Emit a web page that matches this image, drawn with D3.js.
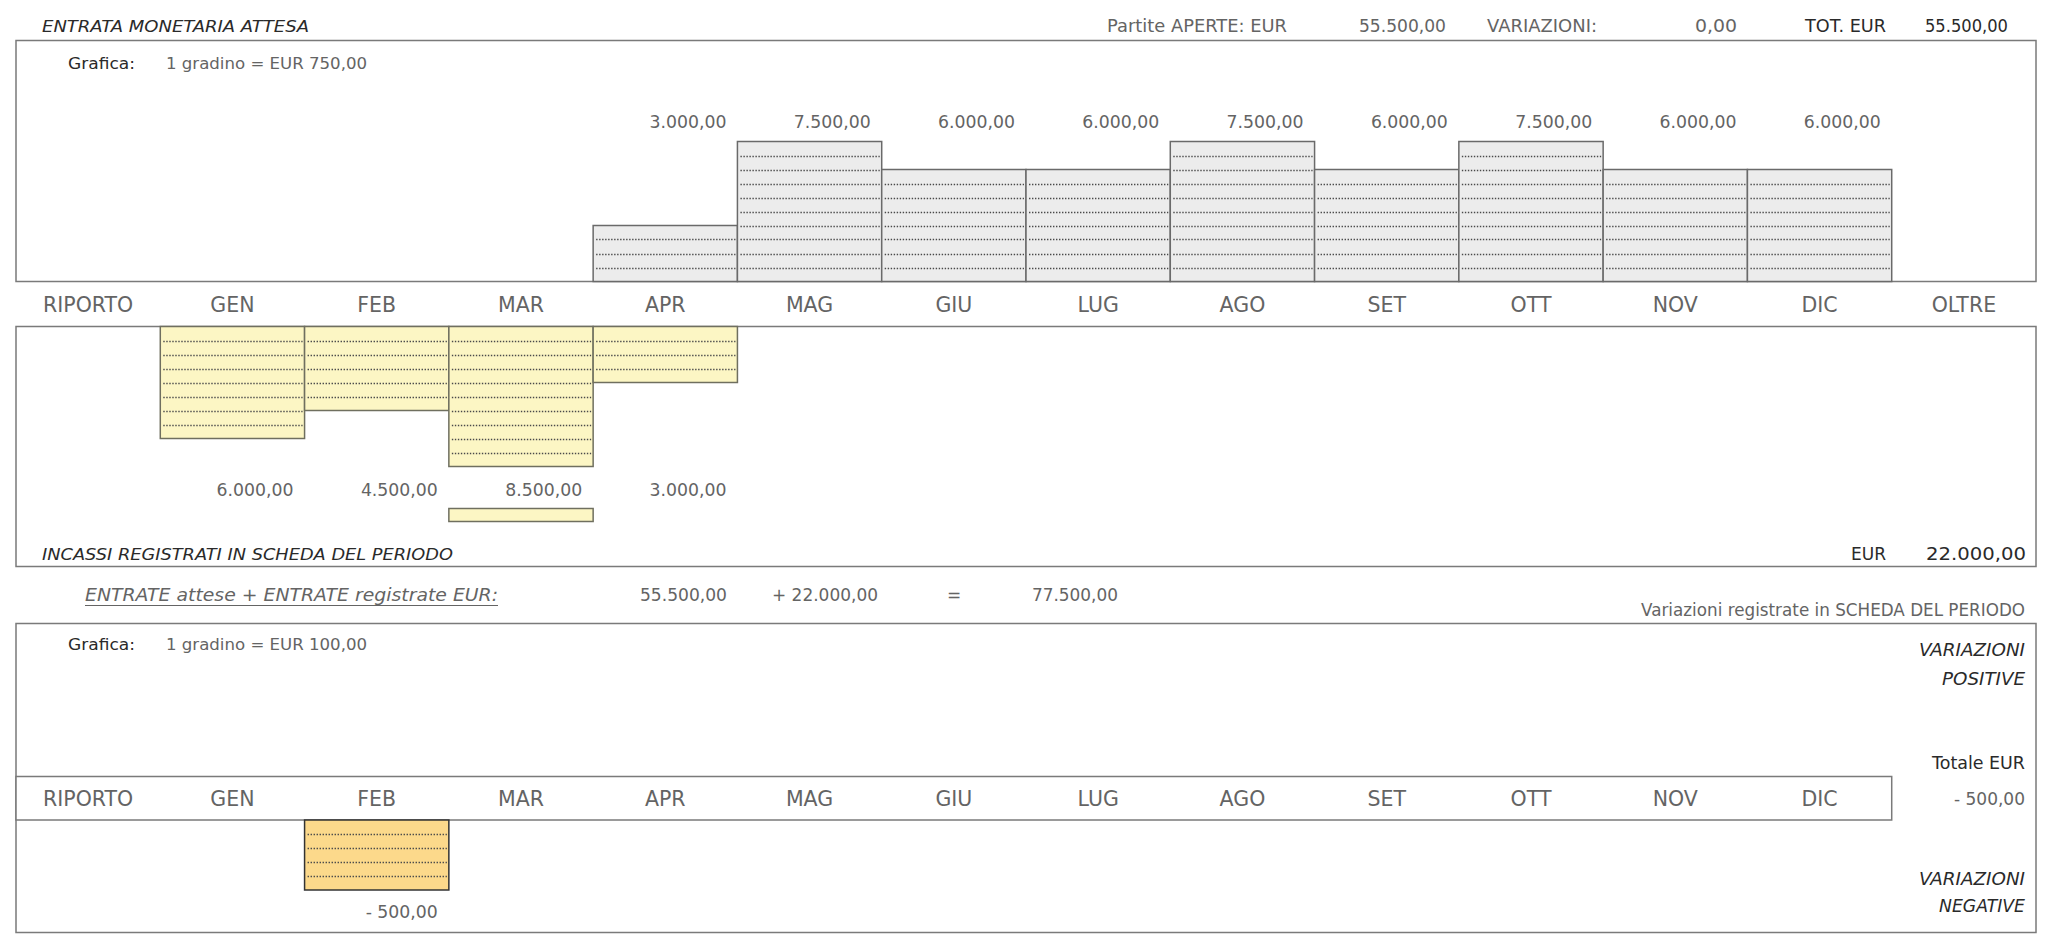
<!DOCTYPE html>
<html><head><meta charset="utf-8">
<script src="https://cdn.jsdelivr.net/npm/d3@7"></script>
<style>
body{margin:0;background:#fff}
svg{display:block}
text{font-family:"DejaVu Sans",Verdana,sans-serif}
</style>
</head><body>
<svg id="c" width="2048" height="941"></svg>
<script>
// ---------- DATA ----------
const columns = ["RIPORTO","GEN","FEB","MAR","APR","MAG","GIU","LUG","AGO","SET","OTT","NOV","DIC","OLTRE"];
const varColumns = ["RIPORTO","GEN","FEB","MAR","APR","MAG","GIU","LUG","AGO","SET","OTT","NOV","DIC"];
const entrateAttese = [0,0,0,0,3000,7500,6000,6000,7500,6000,7500,6000,6000,0];
const incassiRegistrati = [0,6000,4500,8500,3000,0,0,0,0,0,0,0,0,0];
const variazioniPositive = [0,0,0,0,0,0,0,0,0,0,0,0,0];
const variazioniNegative = [0,0,-500,0,0,0,0,0,0,0,0,0,0];
const variazioniAttese = [0];
const gradinoAttese = [750];
const gradinoVariazioni = [100];
const maxGradini = [10];

// ---------- HELPERS ----------
const loc = d3.formatLocale({decimal:",", thousands:".", grouping:[3], currency:["",""]});
const f2 = loc.format(",.2f");
const fmt = v => v < 0 ? "- " + f2(-v) : f2(v);
const sum = a => d3.sum(a);

const svg = d3.select("#c");
const GRAY = "#646464", DARK = "#2a2a2a", LINE = "#7a7a7a";

function txt(x, y, s, o = {}) {
  const t = svg.append("text").attr("x", x).attr("y", y).text(s)
    .attr("font-size", o.size || 17).attr("fill", o.fill || GRAY)
    .attr("text-anchor", o.anchor || "start");
  if (o.italic) t.attr("font-style", "italic");
  if (o.w) t.attr("textLength", o.w).attr("lengthAdjust", "spacingAndGlyphs");
  return t;
}
function box(x0, y0, x1, y1) {
  svg.append("rect").attr("x", x0).attr("y", y0).attr("width", x1 - x0).attr("height", y1 - y0)
    .attr("fill", "none").attr("stroke", LINE).attr("stroke-width", 1.5);
}

// ---------- SCALES ----------
const X0 = 16, X1 = 2036;
const x = d3.scaleBand().domain(columns).range([X0, X1]).padding(0);
const bw = x.bandwidth();
const STEP = 14;
const maxA = gradinoAttese[0] * maxGradini[0];
const maxV = gradinoVariazioni[0] * maxGradini[0];
const yTop = d3.scaleLinear().domain([0, maxA]).range([281.5, 281.5 - STEP * maxGradini[0]]).clamp(true);
const yLow = d3.scaleLinear().domain([0, maxA]).range([326.5, 326.5 + STEP * maxGradini[0]]).clamp(true);
const yPos = d3.scaleLinear().domain([0, maxV]).range([776.5, 776.5 - STEP * maxGradini[0]]).clamp(true);
const yNeg = d3.scaleLinear().domain([0, maxV]).range([820, 820 + STEP * maxGradini[0]]).clamp(true);

function drawBars(vals, cols, y, gradino, fill, stroke) {
  const data = vals.map((v, i) => ({c: cols[i], v: Math.abs(v)})).filter(d => d.v > 0);
  const g = svg.append("g");
  data.forEach(d => {
    const ya = y(0), yb = y(d.v);
    const top = Math.min(ya, yb), h = Math.abs(yb - ya);
    g.append("rect").attr("x", x(d.c)).attr("y", top).attr("width", bw).attr("height", h)
      .attr("fill", fill).attr("stroke", stroke).attr("stroke-width", 1.5);
    const n = Math.round(Math.min(d.v, gradino * maxGradini[0]) / gradino);
    for (let k = 1; k < n; k++) {
      const yy = Math.round(y(k * gradino)) + 0.5;
      g.append("line").attr("x1", x(d.c) + 3).attr("x2", x(d.c) + bw - 2)
        .attr("y1", yy).attr("y2", yy).attr("stroke", "#4a4a4a")
        .attr("stroke-width", 1.4).attr("stroke-dasharray", "1.4,1.6");
    }
  });
  return data;
}

// ---------- HEADER ----------
txt(42, 32, "ENTRATA MONETARIA ATTESA", {italic: true, fill: DARK, size: 16, w: 267});
txt(1107, 32, "Partite APERTE:  EUR", {w: 180});
txt(1446, 32, fmt(sum(entrateAttese)), {anchor: "end", w: 87});
txt(1487, 32, "VARIAZIONI:", {w: 110});
txt(1737, 32, fmt(variazioniAttese[0]), {anchor: "end", w: 42});
txt(1805, 32, "TOT. EUR", {fill: DARK, w: 81});
txt(2008, 32, fmt(sum(entrateAttese) + variazioniAttese[0]), {anchor: "end", fill: DARK, w: 83});

// ---------- TOP PANEL ----------
box(X0, 40.5, X1, 281.5);
txt(68, 69, "Grafica:", {fill: DARK, size: 16, w: 67});
txt(166, 69, "1 gradino = EUR " + fmt(gradinoAttese[0]), {size: 16, w: 201});
const topData = drawBars(entrateAttese, columns, yTop, gradinoAttese[0], "#ececec", "#6a6a6a");
topData.forEach(d => txt(x(d.c) + bw - 11, 128, fmt(d.v), {anchor: "end", size: 17.3}));

// month labels
columns.forEach(c => txt(x(c) + bw / 2, 312, c, {anchor: "middle", size: 20.5}));

// ---------- LOWER PANEL ----------
box(X0, 326.5, X1, 566.5);
const lowData = drawBars(incassiRegistrati, columns, yLow, gradinoAttese[0], "#fcf6c4", "#6f6f5f");
lowData.forEach(d => {
  txt(x(d.c) + bw - 11, 496, fmt(d.v), {anchor: "end", size: 17.3});
  if (d.v > maxA) {
    svg.append("rect").attr("x", x(d.c)).attr("y", 508.5).attr("width", bw).attr("height", 13)
      .attr("fill", "#fcf6c4").attr("stroke", "#6f6f5f").attr("stroke-width", 1.5);
  }
});
txt(42, 560, "INCASSI REGISTRATI IN SCHEDA DEL PERIODO", {italic: true, fill: DARK, size: 16, w: 411});
txt(1851, 560, "EUR", {fill: DARK, w: 35});
txt(2026, 560, fmt(sum(incassiRegistrati)), {anchor: "end", fill: DARK, size: 18, w: 100});

// ---------- SUMMARY ROW ----------
txt(85, 601, "ENTRATE attese + ENTRATE registrate EUR:", {italic: true, size: 17, w: 413});
svg.append("line").attr("x1", 85).attr("x2", 498).attr("y1", 605.5).attr("y2", 605.5).attr("stroke", GRAY).attr("stroke-width", 1);
txt(727, 601, fmt(sum(entrateAttese)), {anchor: "end", w: 87});
txt(878, 601, "+ " + fmt(sum(incassiRegistrati)), {anchor: "end", w: 106});
txt(954, 601, "=", {anchor: "middle"});
txt(1118, 601, fmt(sum(entrateAttese) + sum(incassiRegistrati)), {anchor: "end", w: 86});
txt(2025, 616, "Variazioni registrate in SCHEDA DEL PERIODO", {anchor: "end", w: 384});

// ---------- VARIATIONS PANEL ----------
box(X0, 623.5, X1, 932.5);
svg.append("rect").attr("x", X0).attr("y", 776.5).attr("width", x("OLTRE") - X0).attr("height", 43.5)
  .attr("fill", "#fff").attr("stroke", LINE).attr("stroke-width", 1.5);
txt(68, 650, "Grafica:", {fill: DARK, size: 16, w: 67});
txt(166, 650, "1 gradino = EUR " + fmt(gradinoVariazioni[0]), {size: 16, w: 201});
varColumns.forEach(c => txt(x(c) + bw / 2, 806, c, {anchor: "middle", size: 20.5}));

drawBars(variazioniPositive, varColumns, yPos, gradinoVariazioni[0], "#fcd98b", "#333");
const negData = drawBars(variazioniNegative, varColumns, yNeg, gradinoVariazioni[0], "#fcd98b", "#333");
negData.forEach(d => txt(x(d.c) + bw - 11, 918, fmt(-d.v), {anchor: "end", size: 17.3}));

txt(2025, 656, "VARIAZIONI", {anchor: "end", italic: true, fill: DARK, size: 17, w: 106});
txt(2025, 685, "POSITIVE", {anchor: "end", italic: true, fill: DARK, size: 17, w: 83});
txt(2025, 769, "Totale EUR", {anchor: "end", fill: DARK, size: 17, w: 93});
txt(2025, 805, fmt(sum(variazioniPositive) + sum(variazioniNegative)), {anchor: "end", w: 71});
txt(2025, 885, "VARIAZIONI", {anchor: "end", italic: true, fill: DARK, size: 17, w: 106});
txt(2025, 912, "NEGATIVE", {anchor: "end", italic: true, fill: DARK, size: 17, w: 86});
</script>
</body></html>
